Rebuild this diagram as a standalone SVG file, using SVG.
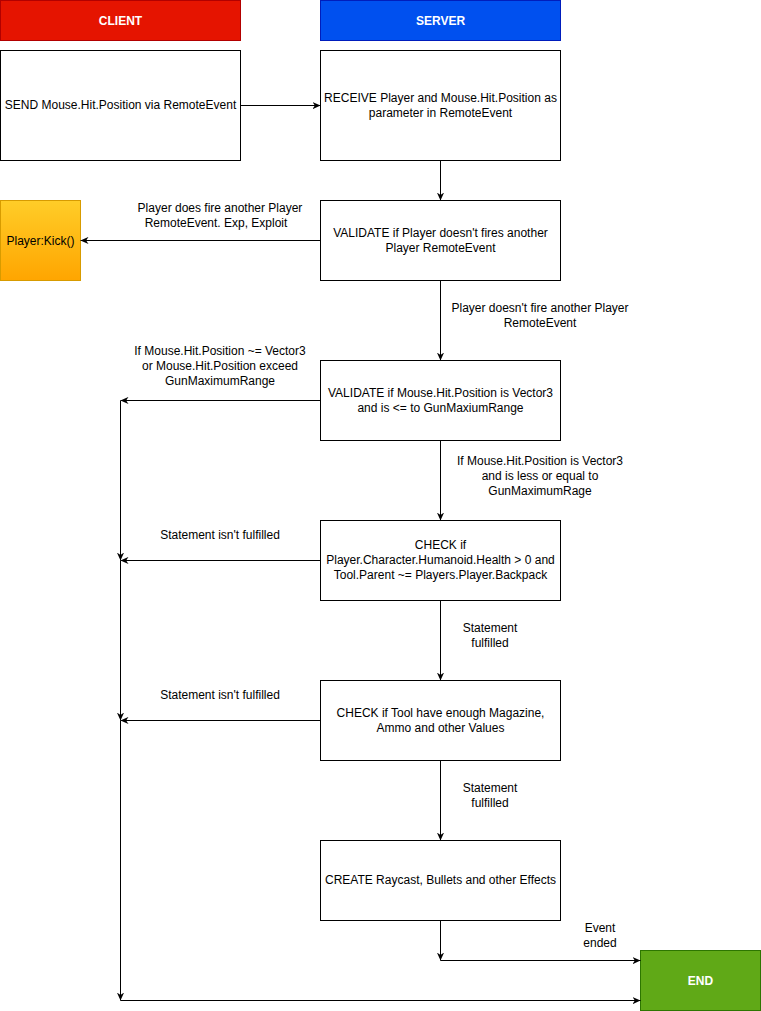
<svg xmlns="http://www.w3.org/2000/svg" width="761" height="1011" viewBox="0 0 761 1011">
<style>
text{font-family:"Liberation Sans",Arial,sans-serif;font-size:12px;fill:#000;text-anchor:middle}
.box{fill:#fff;stroke:#000;stroke-width:1}
.hdr{fill:#fff;font-weight:bold}
.edge{fill:none;stroke:#000;stroke-width:1}
</style>
<defs>
<marker id="arr" viewBox="0 0 10 10" refX="10" refY="5" markerWidth="8" markerHeight="8" markerUnits="userSpaceOnUse" orient="auto">
<path d="M0,0.5 L10,5 L0,9.5 L3,5 z" fill="#000"/>
</marker>
<linearGradient id="kick" x1="0" y1="0" x2="0" y2="1">
<stop offset="0" stop-color="#ffcd28"/>
<stop offset="1" stop-color="#ffa500"/>
</linearGradient>
</defs>
<g id="client-header"><rect x="0.5" y="0.5" width="240" height="40" fill="#e51400" stroke="#b20000"/><text class="hdr" x="120.5" y="24.5">CLIENT</text></g>
<g id="server-header"><rect x="320.5" y="0.5" width="240" height="40" fill="#0050ef" stroke="#001dbc"/><text class="hdr" x="440.5" y="24.5">SERVER</text></g>
<g id="send"><rect class="box" x="0.5" y="50.5" width="240" height="110"/><text x="120.5" y="109">SEND Mouse.Hit.Position via RemoteEvent</text></g>
<g id="receive"><rect class="box" x="320.5" y="50.5" width="240" height="110"/><text x="440.5" y="102">RECEIVE Player and Mouse.Hit.Position as</text><text x="440.5" y="117">parameter in RemoteEvent</text></g>
<g id="kick-node"><rect x="0.5" y="200.5" width="80" height="80" fill="url(#kick)" stroke="#d79b00"/><text x="40.5" y="244.5">Player:Kick()</text></g>
<g id="validate1"><rect class="box" x="320.5" y="200.5" width="240" height="80"/><text x="440.5" y="237">VALIDATE if Player doesn't fires another</text><text x="440.5" y="252">Player RemoteEvent</text></g>
<g id="validate2"><rect class="box" x="320.5" y="360.5" width="240" height="80"/><text x="440.5" y="397">VALIDATE if Mouse.Hit.Position is Vector3</text><text x="440.5" y="412">and is &lt;= to GunMaxiumRange</text></g>
<g id="check1"><rect class="box" x="320.5" y="520.5" width="240" height="80"/><text x="440.5" y="549">CHECK if</text><text x="440.5" y="564">Player.Character.Humanoid.Health &gt; 0 and</text><text x="440.5" y="579">Tool.Parent ~= Players.Player.Backpack</text></g>
<g id="check2"><rect class="box" x="320.5" y="680.5" width="240" height="80"/><text x="440.5" y="717">CHECK if Tool have enough Magazine,</text><text x="440.5" y="732">Ammo and other Values</text></g>
<g id="create"><rect class="box" x="320.5" y="840.5" width="240" height="80"/><text x="440.5" y="884">CREATE Raycast, Bullets and other Effects</text></g>
<g id="end"><rect x="640.5" y="950.5" width="120" height="60" fill="#60a917" stroke="#2d7600"/><text class="hdr" x="700.5" y="984.5">END</text></g>
<g id="connectors">
<path class="edge" d="M240.5,105.5 H320.5" marker-end="url(#arr)"/>
<path class="edge" d="M440.5,160.5 V200.5" marker-end="url(#arr)"/>
<path class="edge" d="M320.5,240.5 H80.5" marker-end="url(#arr)"/>
<path class="edge" d="M440.5,280.5 V360.5" marker-end="url(#arr)"/>
<path class="edge" d="M320.5,400.5 H120.5" marker-end="url(#arr)"/>
<path class="edge" d="M440.5,440.5 V520.5" marker-end="url(#arr)"/>
<path class="edge" d="M320.5,560.5 H120.5" marker-end="url(#arr)"/>
<path class="edge" d="M440.5,600.5 V680.5" marker-end="url(#arr)"/>
<path class="edge" d="M320.5,720.5 H120.5" marker-end="url(#arr)"/>
<path class="edge" d="M440.5,760.5 V840.5" marker-end="url(#arr)"/>
<path class="edge" d="M440.5,920.5 V960.5" marker-end="url(#arr)"/>
<path class="edge" d="M440.5,960.5 H640.5" marker-end="url(#arr)"/>
<path class="edge" d="M120.5,400.5 V560.5" marker-end="url(#arr)"/>
<path class="edge" d="M120.5,560.5 V720.5" marker-end="url(#arr)"/>
<path class="edge" d="M120.5,720.5 V1000.5" marker-end="url(#arr)"/>
<path class="edge" d="M120.5,1000.5 H640.5" marker-end="url(#arr)"/>
<g id="edge-labels">
<text x="220" y="212">Player does fire another Player</text>
<text x="216" y="227">RemoteEvent. Exp, Exploit</text>
<text x="540" y="312">Player doesn't fire another Player</text>
<text x="540" y="327">RemoteEvent</text>
<text x="220" y="355">If Mouse.Hit.Position ~= Vector3</text>
<text x="220" y="370">or Mouse.Hit.Position exceed</text>
<text x="220" y="385">GunMaximumRange</text>
<text x="540" y="465">If Mouse.Hit.Position is Vector3</text>
<text x="540" y="480">and is less or equal to</text>
<text x="540" y="495">GunMaximumRage</text>
<text x="220" y="539">Statement isn't fulfilled</text>
<text x="490" y="632">Statement</text>
<text x="490" y="647">fulfilled</text>
<text x="220" y="699">Statement isn't fulfilled</text>
<text x="490" y="792">Statement</text>
<text x="490" y="807">fulfilled</text>
<text x="600" y="932">Event</text>
<text x="600" y="947">ended</text>
</g>
</g>
</svg>
